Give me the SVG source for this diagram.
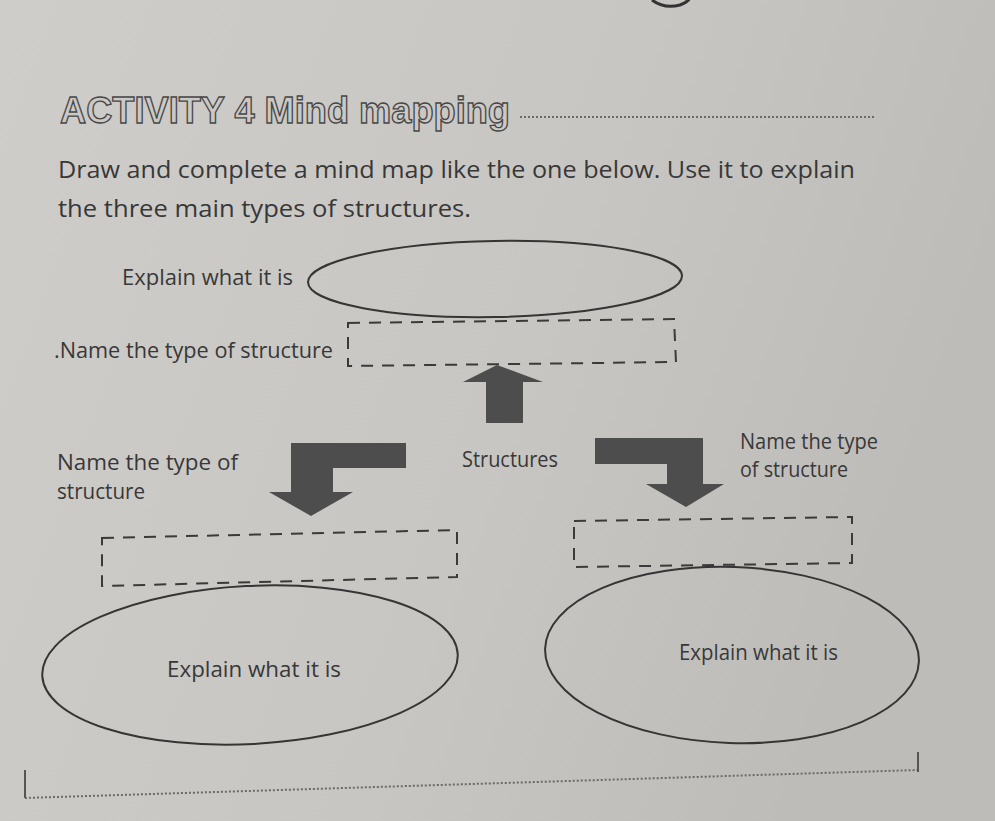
<svg xmlns="http://www.w3.org/2000/svg" width="995" height="821" viewBox="0 0 995 821">
<defs>
<linearGradient id="bg" x1="0" y1="0" x2="1" y2="0.3">
<stop offset="0" stop-color="#cfcdca"/>
<stop offset="0.6" stop-color="#c8c6c3"/>
<stop offset="1" stop-color="#bebcb9"/>
</linearGradient>
<style>
.t{font-family:"Open Sans","Noto Sans","Liberation Sans",sans-serif;fill:#383838}
.b{font-size:24px}
.m{font-size:21px}
.dash{fill:none;stroke:#3a3a3a;stroke-width:2;stroke-dasharray:12 9}
.ell{fill:none;stroke:#353535;stroke-width:2}
.arr{fill:#4d4d4d}
.dot{fill:none;stroke:#6a6a6a;stroke-width:2;stroke-dasharray:2 2}
</style>
</defs>
<rect width="995" height="821" fill="url(#bg)"/>
<path d="M652 0 Q664 9 680 5 Q688 2 690 -2" fill="none" stroke="#333" stroke-width="3"/>

<g id="title">
<text x="60" y="123" font-family="Liberation Sans,Arial,sans-serif" font-weight="bold" font-size="36" fill="#cbc9c6" stroke="#474747" stroke-width="1.3" textLength="450" lengthAdjust="spacingAndGlyphs">ACTIVITY 4 Mind mapping</text>
<line x1="520" y1="117" x2="876" y2="117" class="dot"/>
</g>
<g id="instructions">
<text class="t b" x="58" y="178" textLength="797" lengthAdjust="spacingAndGlyphs">Draw and complete a mind map like the one below. Use it to explain</text>
<text class="t b" x="58" y="217" textLength="413" lengthAdjust="spacingAndGlyphs">the three main types of structures.</text>
</g>

<g id="top-ellipse">
<ellipse class="ell" cx="495" cy="279" rx="187" ry="38" transform="rotate(-1 495 279)"/>
<text class="t m" x="122" y="285" textLength="171" lengthAdjust="spacingAndGlyphs">Explain what it is</text>
</g>
<g id="top-box">
<polygon class="dash" points="348,323 674,319 676,362 348,366"/>
<text class="t m" x="54" y="358" textLength="279" lengthAdjust="spacingAndGlyphs">.Name the type of structure</text>
</g>
<g id="centre">
<text class="t m" x="462" y="467" textLength="96" lengthAdjust="spacingAndGlyphs">Structures</text>
</g>
<g id="left-box">
<polygon class="dash" points="102,538 457,530 457,577 102,586"/>
<text class="t m" x="57" y="470" textLength="181" lengthAdjust="spacingAndGlyphs">Name the type of</text>
<text class="t m" x="57" y="499" textLength="88" lengthAdjust="spacingAndGlyphs">structure</text>
</g>
<g id="right-box">
<polygon class="dash" points="574,521 852,517 852,563 574,567"/>
<text class="t m" x="740" y="449" textLength="138" lengthAdjust="spacingAndGlyphs">Name the type</text>
<text class="t m" x="740" y="477" textLength="108" lengthAdjust="spacingAndGlyphs">of structure</text>
</g>
<g id="left-ellipse">
<ellipse class="ell" cx="250" cy="665" rx="208" ry="79" transform="rotate(-3 250 665)"/>
<text class="t m" x="167" y="677" textLength="174" lengthAdjust="spacingAndGlyphs">Explain what it is</text>
</g>
<g id="right-ellipse">
<ellipse class="ell" cx="732" cy="655" rx="187" ry="88" transform="rotate(2 732 655)"/>
<text class="t m" x="679" y="660" textLength="159" lengthAdjust="spacingAndGlyphs">Explain what it is</text>
</g>

<g id="connectors">
<polygon class="arr" points="497,365 543,382 523,382 523,423 486,423 486,382 463,382"/>
<polygon class="arr" points="406,443 406,468 333,468 333,492 353,492 311,516 269,492 291,492 291,443"/>
<polygon class="arr" points="595,438 703,438 703,484 724,484 686,507 646,484 667,484 667,464 595,464"/>
</g>

<g id="frame">
<path d="M25 770 L25 798" stroke="#555" stroke-width="2" fill="none"/>
<path d="M25 798 L918 770" class="dot"/>
<path d="M918 752 L918 772" stroke="#555" stroke-width="2" fill="none"/>
</g>
</svg>
